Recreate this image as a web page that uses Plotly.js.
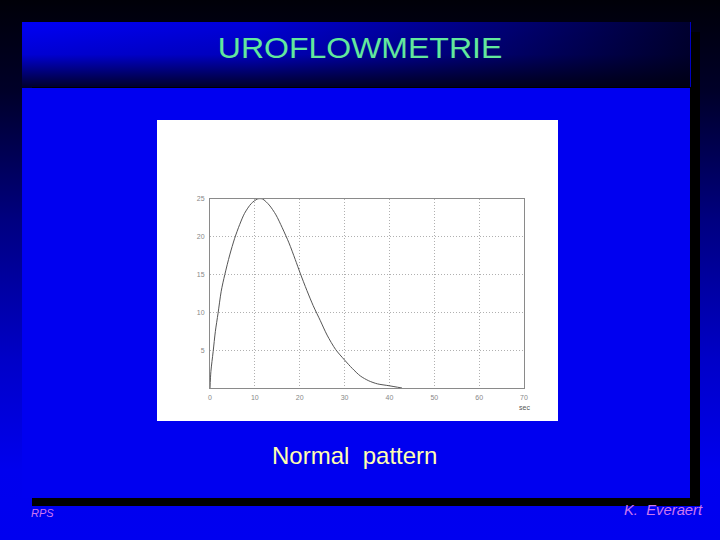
<!DOCTYPE html>
<html>
<head>
<meta charset="utf-8">
<script src="https://cdn.plot.ly/plotly-3.0.1.min.js"></script>
<style>
  html, body { margin:0; padding:0; }
  #slide { position:relative; width:720px; height:540px; overflow:hidden;
    background: linear-gradient(to bottom, #000008 0px, #000028 90px, #000080 220px, #0000c8 360px, #0000ee 470px, #0000f0 540px); }
  .abs { position:absolute; }
  #shadow { left:32px; top:32px; width:668px; height:474px; background:#000; }
  #titlebar { left:22px; top:22px; width:668px; height:65px;
    background: linear-gradient(to bottom, rgba(0,0,16,0) 0%, rgba(0,0,16,0.15) 50%, rgba(0,0,16,0.88) 100%),
                linear-gradient(to right, #0000f6 0%, #0000d8 35%, #000080 68%, #000030 100%);
    border-right:1px solid #0000c0; }
  #panel { left:22px; top:88px; width:668px; height:410px; background:#0000f0; }
  #whitebox { left:157px; top:120px; width:401px; height:301px; background:#fff; }
  #chart { left:0; top:0; width:720px; height:540px; }
  .txt { position:absolute; white-space:pre; font-family: "Liberation Sans", Arial, sans-serif; }
</style>
</head>
<body>
<div id="slide">
  <div class="abs" id="shadow"></div>
  <div class="abs" id="titlebar"></div>
  <div class="abs" id="panel"></div>
  <div class="abs" id="whitebox"></div>
  <div class="abs" id="chart"></div>
  <div class="txt" id="t1" style="left:0; width:720px; text-align:center; top:30px; font-size:32px; color:#62e89c; transform:scaleY(0.9);">UROFLOWMETRIE</div>
  <div class="txt" id="t2" style="left:272px; top:442px; font-size:24px; color:#ffffb0;">Normal  pattern</div>
  <div class="txt" id="t3" style="left:31px; top:507px; font-size:11px; font-style:italic; color:#cc77ee;">RPS</div>
  <div class="txt" id="t4" style="left:624px; top:502px; font-size:14.8px; font-style:italic; color:#cc77ee;">K.  Everaert</div>
</div>
<script>
// Uroflow curve: time (sec) vs flow
const timeSec = [0, 0.2, 0.7, 1.2, 1.8, 2.5, 3.3, 4.4, 5.5, 6.6, 7.7, 9.2, 10.6, 11.7, 13.2, 14.7, 16.1, 17.6, 19, 20.1, 21.6, 23, 24.6, 26.1, 28, 30, 31.7, 33.5, 35.4, 37.3, 39.9, 42.8];
const flow    = [0, 2.2, 4.8, 7.5, 9.9, 12.8, 15, 17.6, 19.8, 21.6, 23.1, 24.4, 25, 25, 24.2, 22.9, 21.2, 19.2, 17, 15.2, 12.9, 10.9, 8.9, 7, 5.1, 3.7, 2.6, 1.6, 0.95, 0.55, 0.3, 0];
const xTicks = [0, 10, 20, 30, 40, 50, 60, 70];
const xTickText = ['0', '10', '20', '30', '40', '50', '60', '70'];
const yTicks = [5, 10, 15, 20, 25];
const yTickText = ['5', '10', '15', '20', '25'];
const xUnit = 'sec';

const trace = {
  x: timeSec, y: flow, type: 'scatter', mode: 'lines',
  line: { color: '#555555', width: 1, shape: 'spline', smoothing: 0.8 },
  hoverinfo: 'skip'
};

const axisCommon = {
  showline: true, mirror: true, linecolor: '#8a8a8a', linewidth: 1,
  showgrid: true, gridcolor: '#b0b0b0', griddash: '1px,2px', gridwidth: 1,
  zeroline: false, ticks: '', fixedrange: true, automargin: false,
  tickfont: { family: 'Liberation Sans, Arial, sans-serif', size: 7, color: '#888888' }
};

const layout = {
  width: 720, height: 540,
  margin: { l: 210, r: 196, t: 199, b: 152, pad: 0 },
  paper_bgcolor: 'rgba(0,0,0,0)', plot_bgcolor: '#ffffff',
  showlegend: false,
  xaxis: Object.assign({}, axisCommon, { range: [0, 70], tickmode: 'array', tickvals: xTicks, ticktext: xTickText, ticklabelstandoff: 3 }),
  yaxis: Object.assign({}, axisCommon, { range: [0, 25], tickmode: 'array', tickvals: yTicks, ticktext: yTickText, ticklabelstandoff: 3 }),
  annotations: [{
    xref: 'x', yref: 'paper', x: 70, y: 0, yshift: -14, text: xUnit, showarrow: false,
    xanchor: 'center', yanchor: 'top',
    font: { family: 'Liberation Sans, Arial, sans-serif', size: 7, color: '#555' }
  }]
};

Plotly.newPlot('chart', [trace], layout, { staticPlot: true, displayModeBar: false });
</script>
</body>
</html>
